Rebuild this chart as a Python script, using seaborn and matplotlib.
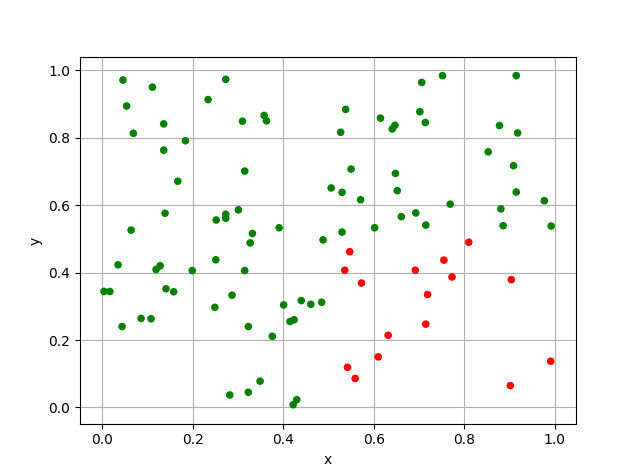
import matplotlib
matplotlib.use("Agg")
import matplotlib.pyplot as plt
import numpy as np
import pandas as pd
import seaborn as sns

# point coordinates
x = [0.046, 0.111, 0.273, 0.054, 0.234, 0.136, 0.310, 0.069, 0.184, 0.136,
     0.315, 0.167, 0.139, 0.301, 0.252, 0.273, 0.273, 0.064, 0.358, 0.363,
     0.538, 0.615, 0.647, 0.641, 0.527, 0.550, 0.648, 0.506, 0.530, 0.652,
     0.571, 0.661, 0.391, 0.602, 0.530, 0.332, 0.488, 0.327, 0.752, 0.915,
     0.706, 0.702, 0.714, 0.878, 0.918, 0.853, 0.909, 0.915, 0.977, 0.769,
     0.881, 0.693, 0.715, 0.886, 0.992, 0.035, 0.128, 0.119, 0.199, 0.251,
     0.315, 0.004, 0.017, 0.141, 0.158, 0.287, 0.249, 0.086, 0.108, 0.044,
     0.323, 0.282, 0.323, 0.401, 0.440, 0.461, 0.485, 0.415, 0.424, 0.376,
     0.349, 0.430, 0.422,
     0.547, 0.536, 0.573, 0.632, 0.610, 0.542, 0.559, 0.810, 0.755, 0.692,
     0.773, 0.904, 0.719, 0.715, 0.991, 0.902]
y = [0.971, 0.950, 0.973, 0.894, 0.913, 0.841, 0.849, 0.813, 0.791, 0.763,
     0.701, 0.671, 0.576, 0.586, 0.556, 0.573, 0.561, 0.526, 0.866, 0.850,
     0.884, 0.858, 0.837, 0.826, 0.816, 0.707, 0.694, 0.651, 0.638, 0.643,
     0.616, 0.566, 0.533, 0.533, 0.520, 0.516, 0.497, 0.488, 0.984, 0.984,
     0.964, 0.877, 0.845, 0.836, 0.814, 0.758, 0.717, 0.639, 0.613, 0.603,
     0.589, 0.577, 0.541, 0.539, 0.538, 0.423, 0.420, 0.409, 0.406, 0.438,
     0.406, 0.344, 0.344, 0.352, 0.343, 0.333, 0.297, 0.264, 0.263, 0.240,
     0.240, 0.037, 0.045, 0.304, 0.317, 0.306, 0.312, 0.255, 0.260, 0.211,
     0.078, 0.023, 0.008,
     0.462, 0.407, 0.369, 0.214, 0.150, 0.119, 0.086, 0.490, 0.437, 0.407,
     0.387, 0.379, 0.335, 0.247, 0.137, 0.065]

df = pd.DataFrame({"x": x, "y": y})
# red where x > 0.5 and y < 0.5
df["group"] = np.where((df["x"] > 0.5) & (df["y"] < 0.5), "red", "green")

fig, ax = plt.subplots(figsize=(6.4, 4.76), dpi=100)
sns.scatterplot(data=df, x="x", y="y", hue="group",
                palette={"green": "green", "red": "red"},
                s=30, linewidth=0, legend=False, ax=ax)
ax.grid(True)
ax.set_axisbelow(True)
ax.set_xlim(-0.049, 1.047)
ax.set_ylim(-0.048, 1.039)
ax.set_xlabel("x")
ax.set_ylabel("y")

plt.savefig("out.png", dpi=100)
